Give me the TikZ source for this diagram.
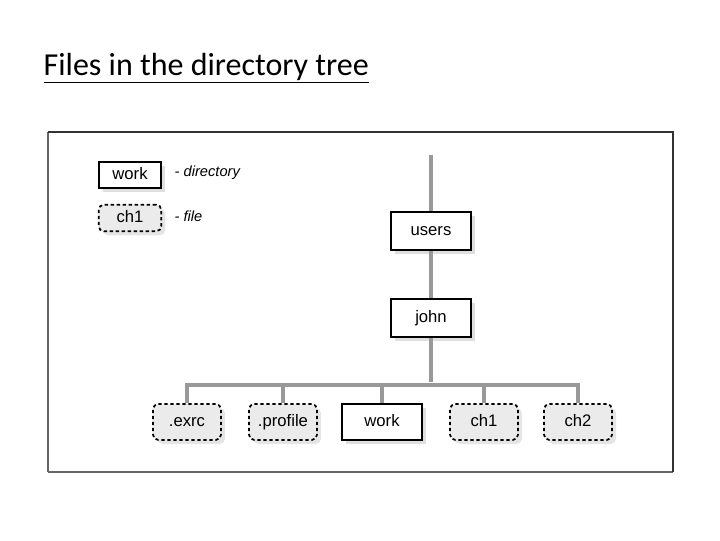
\documentclass[tikz,border=0pt]{standalone}
\usepackage{fontspec}
\setmainfont{Liberation Sans}
\newfontfamily\titlefont{Carlito}
\usetikzlibrary{shadows}
\tikzset{
  dirbox/.style={rectangle, draw, line width=1.3pt, fill=white, minimum width=60pt, minimum height=29pt, text height=1.6ex, text depth=.4ex, font=\fontsize{12.5}{14}\selectfont, drop shadow={shadow xshift=3pt, shadow yshift=-3pt, fill=black!25}},
  filebox/.style={rectangle, draw, dashed, dash pattern=on 2.5pt off 2pt, line width=1.3pt, rounded corners=4pt, fill=black!8, minimum width=51pt, minimum height=27pt, text height=1.6ex, text depth=.4ex, font=\fontsize{12.5}{14}\selectfont, drop shadow={shadow xshift=3pt, shadow yshift=-3pt, fill=black!20}},
  note/.style={anchor=west, font=\itshape\fontsize{11}{13}\selectfont},
  tree/.style={draw=black!40, line width=2.6pt}
}
\begin{document}
\begin{tikzpicture}[x=0.75pt, y=-0.75pt]
\useasboundingbox (0,0) rectangle (720,540);
% title
\node[anchor=west, font=\titlefont\fontsize{24}{28}\selectfont] (title) at (39,68) {\underline{Files in the directory tree}};
% frame
\draw[black!60, line width=0.8pt] (48,472) -- (48,132);
\draw[black!60, line width=0.8pt] (48,472) -- (673,472);
\draw[black!80, line width=1.6pt] (48,132) -- (673,132) -- (673,472);
% legend
\node[dirbox, minimum width=47pt, minimum height=20pt] (legdir) at (130,175) {work};
\node[filebox, minimum width=47pt, minimum height=20pt] (legfile) at (130,218) {ch1};
\node[note] (notedir) at (170,173) {- directory};
\node[note] (notefile) at (170,216) {- file};
% tree
\coordinate (root) at (431,155);
\coordinate (bar) at (431,382);
\node[dirbox] (users) at (431,231) {users};
\node[dirbox] (john) at (431,318) {john};
\node[filebox] (exrc) at (187,422) {.exrc};
\node[filebox] (profile) at (283,422) {.profile};
\node[dirbox, minimum height=27pt] (work) at (382,422) {work};
\node[filebox] (ch1) at (484,422) {ch1};
\node[filebox] (ch2) at (578,422) {ch2};
\path[tree] (root) -- (users.north);
\path[tree] (users.south) -- (john.north);
\path[tree] (john.south) -- (bar);
\path[tree] (exrc.north) -- ++(0,-18) -| (ch2.north);
\foreach \n in {profile, work, ch1}
  \path[tree] (\n.north) -- ++(0,-18);
\end{tikzpicture}
\end{document}
